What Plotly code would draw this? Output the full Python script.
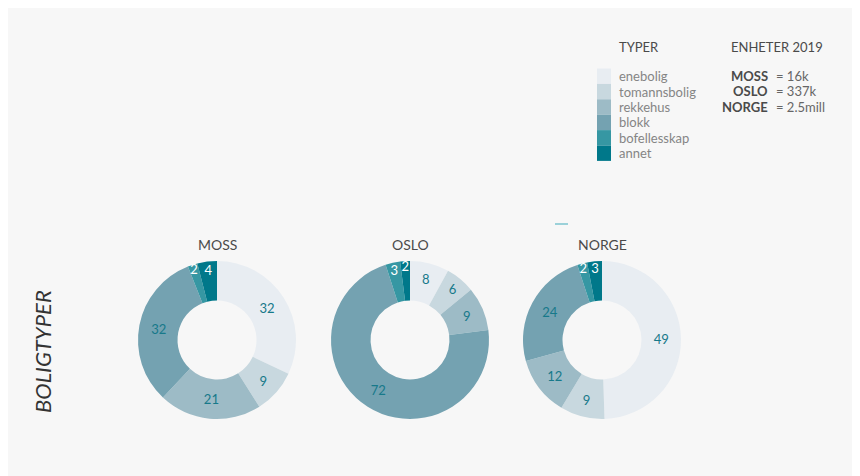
import plotly.graph_objects as go

categories = ["enebolig", "tomannsbolig", "rekkehus", "blokk", "bofellesskap", "annet"]
colors = ["#e8edf2", "#c8d8df", "#9dbbc6", "#74a2b1", "#3697a3", "#00788a"]
regions = ["MOSS", "OSLO", "NORGE"]
moss = [32, 9, 21, 32, 2, 4]
oslo = [8, 6, 9, 72, 3, 2]
norge = [49, 9, 12, 24, 2, 3]
units = ["16k", "337k", "2.5mill"]
values = [moss, oslo, norge]

FONT = "Lato"
TEAL = "#17798a"
text_colors = [TEAL, TEAL, TEAL, TEAL, "#ffffff", "#ffffff"]

W, H = 860, 476
OFF = 8  # page body margin


def px(x):
    return (x - OFF) / W


def py(y):
    return 1 - (y - OFF) / H


centers_x = [217, 410, 602]
cy = 340
R = 79

fig = go.Figure()
for name, vals, cx in zip(regions, values, centers_x):
    fig.add_trace(go.Pie(
        labels=categories, values=vals, text=[str(v) for v in vals],
        textinfo="text", textposition="inside", insidetextorientation="horizontal",
        sort=False, direction="clockwise", rotation=0, hole=0.5,
        marker=dict(colors=colors, line=dict(width=0)),
        textfont=dict(family=FONT, size=14, color=text_colors),
        hoverinfo="label+value", showlegend=False,
        domain=dict(x=[px(cx - R), px(cx + R)], y=[py(cy + R), py(cy - R)]),
    ))
    fig.add_annotation(x=px(cx), y=py(244), xref="paper", yref="paper", text=name,
                       showarrow=False, xanchor="center", yanchor="middle",
                       font=dict(family=FONT, size=14, color="#4a4a4a"))

# custom legend
x0, y0, step = 597, 68.5, 15.4
fig.add_annotation(x=px(617), y=py(47), xref="paper", yref="paper", text="TYPER",
                   showarrow=False, xanchor="left", yanchor="middle",
                   font=dict(family=FONT, size=13, color="#4a4a4a"))
for i, (cat, col) in enumerate(zip(categories, colors)):
    top = y0 + i * step
    fig.add_shape(type="rect", xref="paper", yref="paper",
                  x0=px(x0), x1=px(x0 + 14), y0=py(top + step), y1=py(top),
                  fillcolor=col, line=dict(width=0))
    fig.add_annotation(x=px(617), y=py(top + step / 2), xref="paper", yref="paper", text=cat,
                       showarrow=False, xanchor="left", yanchor="middle",
                       font=dict(family=FONT, size=13, color="#858585"))

fig.add_annotation(x=px(729), y=py(47), xref="paper", yref="paper", text="ENHETER 2019",
                   showarrow=False, xanchor="left", yanchor="middle",
                   font=dict(family=FONT, size=13, color="#4a4a4a"))
for i, (reg, u) in enumerate(zip(regions, units)):
    yy = py(76 + i * 15.4)
    fig.add_annotation(x=px(770), y=yy, xref="paper", yref="paper", text="<b>" + reg + "</b>",
                       showarrow=False, xanchor="right", yanchor="middle",
                       font=dict(family=FONT, size=13, color="#4a4a4a"))
    fig.add_annotation(x=px(774), y=yy, xref="paper", yref="paper", text="= " + u,
                       showarrow=False, xanchor="left", yanchor="middle",
                       font=dict(family=FONT, size=13, color="#666666"))

fig.add_annotation(x=px(42), y=py(352), xref="paper", yref="paper", text="<i>BOLIGTYPER</i>",
                   showarrow=False, textangle=-90, xanchor="center", yanchor="middle",
                   font=dict(family=FONT, size=22, color="#333333"))
fig.add_shape(type="line", xref="paper", yref="paper", x0=px(555), x1=px(568),
              y0=py(224), y1=py(224), line=dict(color="#7cc5cf", width=1.5))

fig.update_layout(
    width=W, height=H, margin=dict(l=0, r=0, t=0, b=0),
    paper_bgcolor="#f7f7f7", plot_bgcolor="#f7f7f7",
    uniformtext=dict(minsize=13, mode="show"),
    font=dict(family=FONT),
)
fig.write_html("out.html")
